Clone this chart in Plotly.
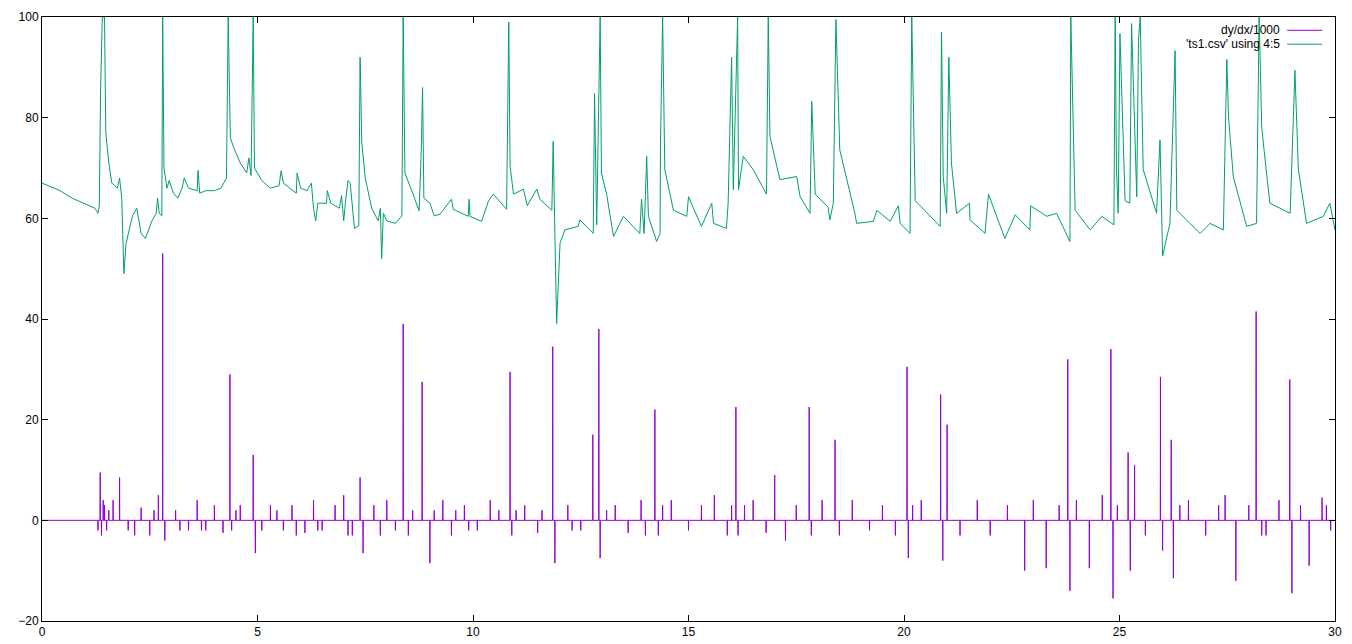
import plotly.graph_objects as go

green_x = [0.0,0.42,0.7,1.23,1.3,1.33,1.36,1.40,1.45,1.48,1.55,1.62,1.75,1.8,1.85,1.9,1.95,2.1,2.2,2.3,2.4,2.55,2.65,2.68,2.72,2.78,2.8,2.83,2.9,2.95,3.05,3.15,3.25,3.3,3.4,3.6,3.62,3.66,3.8,4.0,4.15,4.28,4.32,4.37,4.45,4.6,4.75,4.8,4.85,4.9,4.93,5.1,5.3,5.5,5.55,5.6,5.9,5.92,6.0,6.15,6.25,6.3,6.35,6.4,6.6,6.62,6.7,6.9,6.95,7.0,7.05,7.1,7.15,7.2,7.25,7.35,7.38,7.42,7.5,7.65,7.8,7.85,7.88,7.92,8.0,8.2,8.35,8.38,8.42,8.6,8.75,8.8,8.83,8.86,9.0,9.1,
 9.23,9.5,9.54,9.89,9.91,9.93,10.2,10.36,10.47,10.78,10.83,10.86,10.94,11.17,11.26,11.48,11.55,11.83,11.86,11.9,11.94,12.02,12.13,12.44,12.48,12.79,12.82,12.87,12.95,12.98,13.1,13.26,13.49,13.87,13.91,13.97,14.03,14.07,14.26,14.34,14.35,14.4,14.45,14.65,14.96,15.0,15.3,15.54,15.58,15.88,15.92,16.0,16.04,16.14,16.16,16.27,16.5,16.81,16.85,16.89,17.12,17.51,17.59,17.82,17.86,17.94,18.24,18.28,18.36,18.42,18.51,18.86,18.9,19.29,19.37,19.68,
 19.87,19.91,20.14,20.18,20.26,20.84,20.87,20.91,20.99,21.04,21.1,21.22,21.52,21.53,21.88,21.96,22.34,22.58,22.92,22.94,23.31,23.54,23.85,23.87,23.97,24.32,24.59,24.87,24.9,24.93,24.97,25.01,25.13,25.24,25.28,25.4,25.44,25.48,25.55,25.86,25.94,26.0,26.17,26.29,26.33,26.87,27.1,27.41,27.49,27.53,27.64,27.95,28.18,28.24,28.3,28.42,28.49,28.96,29.07,29.15,29.34,29.73,29.88,30.0]
green_y = [67,65.5,64,62,61,62.5,86,100,100,77,71,67,66,68,64,49,55,60.5,62,57,56,59.5,61,64,61,60.5,100,70,66,67.5,65,64,66,68,66,65.5,69.5,65,65.5,65.5,66,68,100,76,74,71,69,72,68.5,100,70,67.5,66,66.5,69.5,67,65,69,66,65.5,67,62,59.5,63,63,65.5,63,62,64.5,59.5,64,67.5,67,63,58,58.5,92,75,68,62,59.5,62,52,61,59.5,59,60.5,100,69,65,61.5,73.5,86,64,63,60.5,
 60.8,63.8,61.8,60.4,63.8,60.4,59.4,63.5,64.8,61.8,99,70.4,64.8,65.8,62.5,65.8,63.8,61.6,75.3,57,39.1,55.1,57.7,58.4,59.7,57,84.8,58.7,100,69,64.8,56.4,60.4,57,63.8,57,72.3,60.4,55.4,57,75,100,69.7,61.6,60.4,64.3,58.4,63,59,58,63,92,65.7,100,65.7,72.3,69.7,64.8,100,76.3,67.7,68.3,64.3,61,83.2,64.8,62.2,59.7,63,99.5,73.6,61,59,59.4,61.6,59.4,
 62.5,59,57,100,63.5,58.4,97,68.3,61,92,71,61,63,59.7,57,64.8,56,60.7,57.7,62.5,60.4,61,55.4,100,61.6,57.7,60.4,58.7,100,69.7,61,96.7,63.5,63,98.7,64.3,95.3,100,69.7,61,75.6,52.5,59,93.3,61.6,57,59,57.7,91.6,80.1,68.3,58.4,59,100,78,68.3,63,61,89.4,69.7,59,60.4,63,57.7]

spike_x = [1.3,1.35,1.38,1.42,1.45,1.5,1.55,1.65,1.8,2.0,2.15,2.3,2.5,2.6,2.7,2.8,2.85,3.1,3.2,3.4,3.6,3.7,3.8,4.0,4.2,4.36,4.4,4.5,4.6,4.9,4.95,5.1,5.3,5.45,5.6,5.8,5.9,6.1,6.3,6.4,6.5,6.8,7.0,7.1,7.2,7.38,7.45,7.7,7.85,8.0,8.2,8.38,8.5,8.6,8.82,9.0,9.1,9.3,9.5,9.6,9.8,9.9,10.1,10.4,10.6,10.86,10.9,11.0,11.2,11.5,11.6,11.85,11.9,12.2,12.3,12.5,12.78,12.92,12.95,13.1,13.3,13.6,13.9,14.0,14.22,14.3,14.4,14.6,15.0,15.3,15.6,15.9,16.0,16.1,16.15,16.3,16.5,16.8,17.0,17.25,17.5,17.8,17.85,18.1,18.4,18.5,18.8,19.2,19.5,19.8,20.07,20.1,20.2,20.4,20.85,20.9,21.0,21.3,21.7,22.0,22.4,22.8,23.0,23.3,23.6,23.8,23.85,24.0,24.3,24.6,24.8,24.85,24.95,25.2,25.25,25.35,25.6,25.95,26.0,26.2,26.25,26.4,26.6,27.0,27.3,27.45,27.7,28.0,28.17,28.3,28.4,28.7,28.95,29.0,29.2,29.4,29.7,29.8,29.9]
spike_v = [-2,9.5,-3,4,3,-2,2,4,8.5,-2,-3,2.5,-3,2,5,53,-4,2,-2,-2,4,-2,-2,3,-2.5,29,-2,2,3,13,-6.5,-2,3,2,-2,3,-3,-2.5,4,-2,-2,3,5,-3,-3,8.5,-6.5,3,-3,4,-2,39,-3,2,27.5,-8.5,2,4,-3,2,3,-2,-2,4,2,29.5,-3,2,3,-2.5,2,34.5,-8.5,3,-2,-2,17,38,-7.5,2,3,-2.5,4,-3,22,-3,3,4,-2,3,5,-3,3,22.5,-3,3,4,-2.5,9,-4,3,22.5,-3,4,16,-3,4,-2,3,-3,30.5,-7.5,3,4,25,-8,19,-3,4,-3,3,-10,4,-9.5,3,32,-14,4,-9.5,5,34,-15.5,3,13.5,-10,11,-3,28.5,-6,16,-11.5,3,4,-3,3,5,-12,3,41.5,-3,-3,4,28,-14.5,3,-9,4.5,3,-2]

px, py = [0.0], [0.0]
for sx, sv in zip(spike_x, spike_v):
    px += [sx - 0.004, sx, sx + 0.004]
    py += [0, sv, 0]
px.append(30.0); py.append(0)

GREEN = "#009e73"; PURPLE = "#9400d3"
fig = go.Figure()
fig.add_trace(go.Scatter(x=px, y=py, mode="lines", line=dict(color=PURPLE, width=1), name="dy/dx/1000"))
fig.add_trace(go.Scatter(x=green_x, y=green_y, mode="lines", line=dict(color=GREEN, width=1), name="'ts1.csv' using 4:5"))

ax = dict(showgrid=False, zeroline=False, showline=True, mirror="ticks", linecolor="black", automargin=False,
          ticklabeloverflow="allow", ticks="inside", ticklen=6, tickcolor="black",
          tickfont=dict(family="Liberation Sans", size=12, color="black"))
fig.update_layout(width=1336, height=632, autosize=False, plot_bgcolor="white", paper_bgcolor="white",
                  margin=dict(l=34, r=9, t=9, b=19, pad=0), showlegend=False,
                  xaxis=dict(range=[0, 30], tickvals=[0,5,10,15,20,25,30], **ax),
                  yaxis=dict(range=[-20, 100], tickvals=[-20,0,20,40,60,80,100], **ax))
for txt, col, yp in [("dy/dx/1000", PURPLE, 0.978), ("'ts1.csv' using 4:5", GREEN, 0.955)]:
    fig.add_annotation(xref="paper", yref="paper", x=0.959, y=yp, text=txt, showarrow=False,
                       xanchor="right", yanchor="middle", font=dict(family="Liberation Sans", size=12, color="black"))
    fig.add_shape(type="line", xref="paper", yref="paper", x0=0.963, x1=0.990, y0=yp, y1=yp, line=dict(color=col, width=1))
fig.write_html("out.html")
